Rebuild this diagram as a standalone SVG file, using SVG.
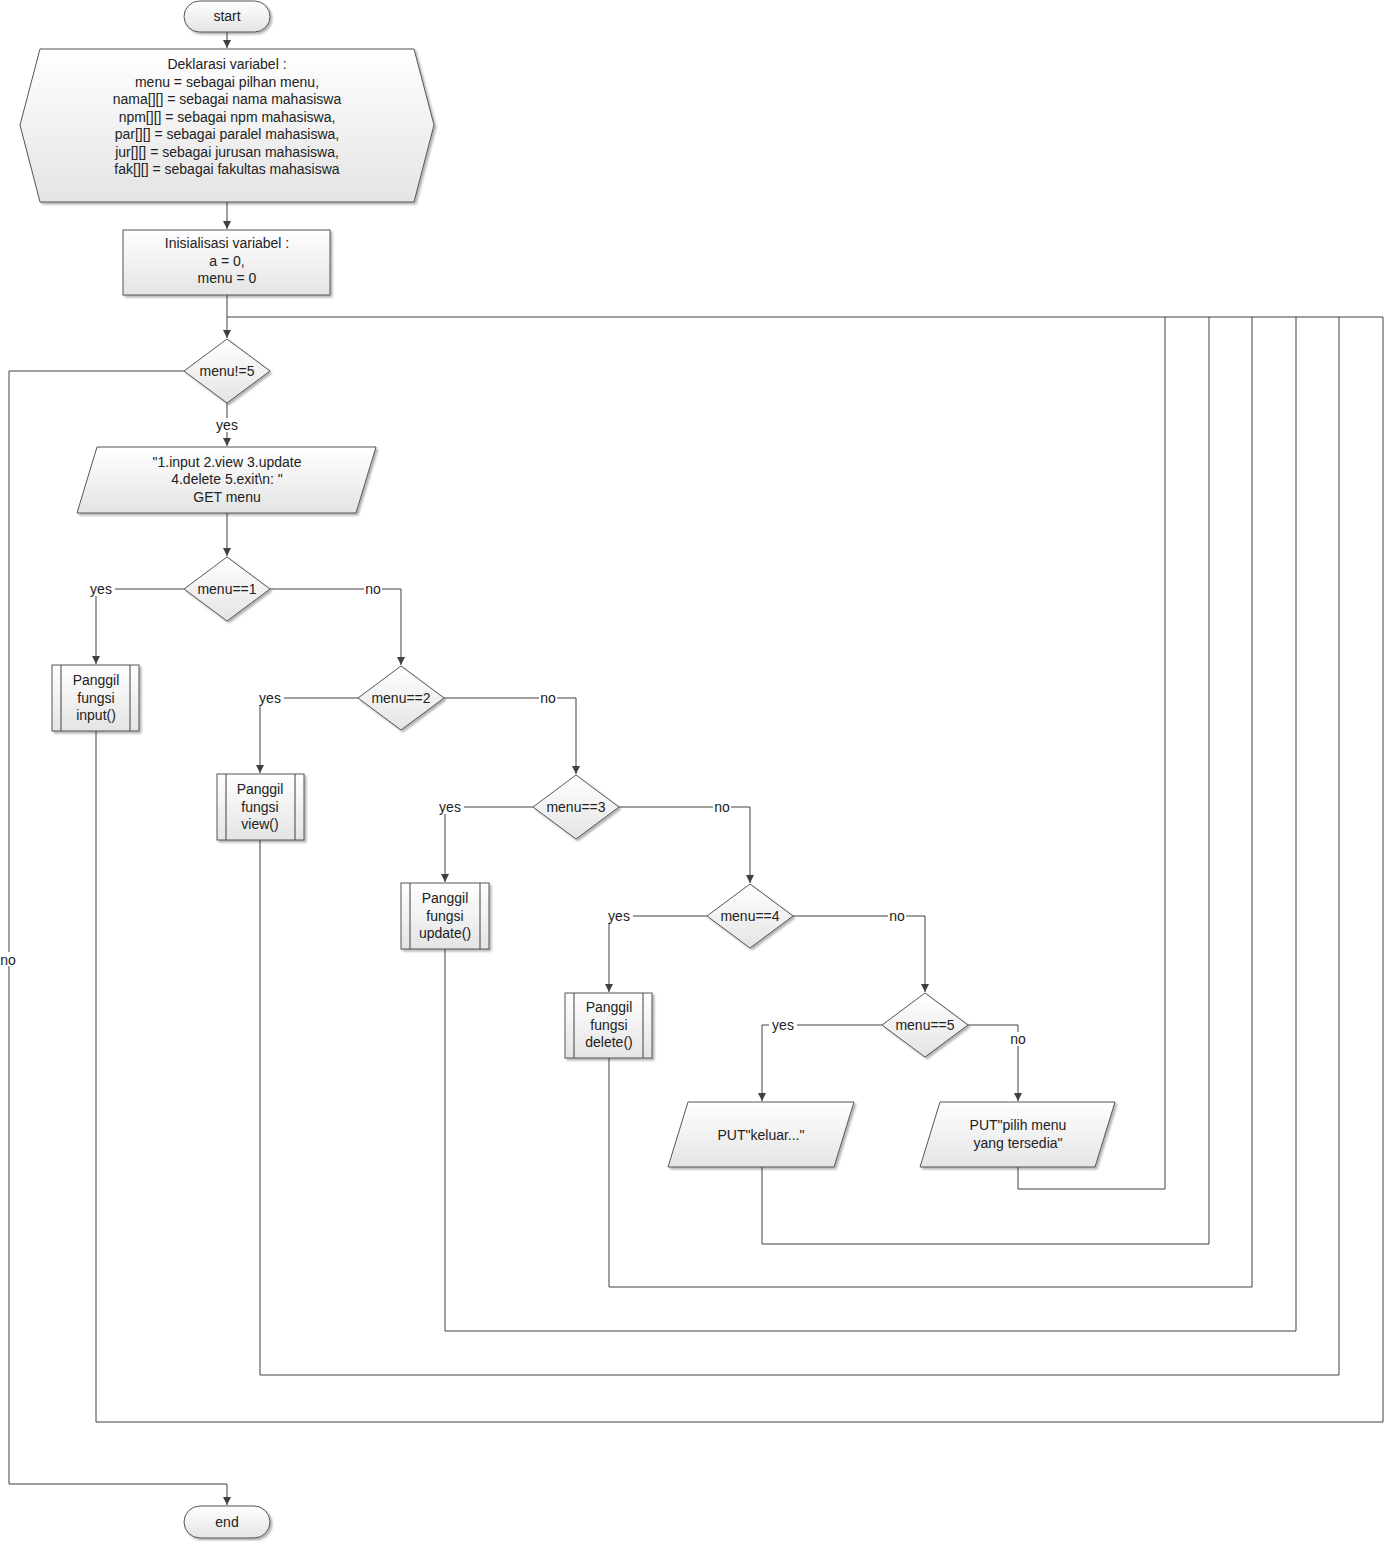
<svg xmlns="http://www.w3.org/2000/svg" width="1385" height="1541" viewBox="0 0 1385 1541">
<defs>
<linearGradient id="g" x1="0" y1="0" x2="0" y2="1"><stop offset="0" stop-color="#ffffff"/><stop offset="1" stop-color="#e4e4e4"/></linearGradient>
<filter id="sh" x="-5%" y="-5%" width="115%" height="120%"><feDropShadow dx="2" dy="2" stdDeviation="1.2" flood-color="#000" flood-opacity="0.3"/></filter>
<marker id="a" markerWidth="10" markerHeight="10" refX="9" refY="5" orient="auto" markerUnits="userSpaceOnUse"><path d="M1,1 L9,5 L1,9 z" fill="#404040"/></marker>
</defs>
<style>
.s{fill:url(#g);stroke:#555;stroke-width:1;filter:url(#sh)}
.l{fill:none;stroke:#404040;stroke-width:1}
.la{fill:none;stroke:#404040;stroke-width:1;marker-end:url(#a)}
text{font-family:"Liberation Sans",Arial,sans-serif;font-size:14px;fill:#222;text-anchor:middle}
.lb{fill:#fff}
</style>
<rect width="1385" height="1541" fill="#fff"/>
<g id="connectors">
<path class="la" d="M227,32 V48"/>
<path class="la" d="M227,202 V229"/>
<path class="la" d="M227,295 V338"/>
<path class="l" d="M227,317 H1383"/>
<path class="la" d="M227,403 V446"/>
<path class="la" d="M227,513 V556"/>
<path class="l" d="M184,371 H9 V1484 H227"/>
<path class="la" d="M227,1484 V1505"/>
<path class="la" d="M184,589 H96 V664"/>
<path class="la" d="M270,589 H401 V665"/>
<path class="la" d="M358,698 H260 V773"/>
<path class="la" d="M444,698 H576 V774"/>
<path class="la" d="M533,807 H445 V882"/>
<path class="la" d="M619,807 H750 V883"/>
<path class="la" d="M707,916 H609 V992"/>
<path class="la" d="M793,916 H925 V992"/>
<path class="la" d="M882,1025 H762 V1101"/>
<path class="la" d="M968,1025 H1018 V1101"/>
<path class="l" d="M1018,1167 V1189 H1165 V317"/>
<path class="l" d="M762,1167 V1244 H1209 V317"/>
<path class="l" d="M609,1058 V1287 H1252 V317"/>
<path class="l" d="M445,949 V1331 H1296 V317"/>
<path class="l" d="M260,840 V1375 H1339 V317"/>
<path class="l" d="M96,731 V1422 H1383 V317"/>
<rect class="lb" x="212" y="418" width="30" height="14"/><text x="227" y="430">yes</text>
<rect class="lb" x="0" y="952" width="18" height="14"/><text x="8" y="965">no</text>
<rect class="lb" x="87" y="582" width="28" height="14"/><text x="101" y="594">yes</text>
<rect class="lb" x="364" y="582" width="18" height="14"/><text x="373" y="594">no</text>
<rect class="lb" x="256" y="691" width="28" height="14"/><text x="270" y="703">yes</text>
<rect class="lb" x="539" y="691" width="18" height="14"/><text x="548" y="703">no</text>
<rect class="lb" x="436" y="800" width="28" height="14"/><text x="450" y="812">yes</text>
<rect class="lb" x="713" y="800" width="18" height="14"/><text x="722" y="812">no</text>
<rect class="lb" x="605" y="909" width="28" height="14"/><text x="619" y="921">yes</text>
<rect class="lb" x="888" y="909" width="18" height="14"/><text x="897" y="921">no</text>
<rect class="lb" x="769" y="1018" width="28" height="14"/><text x="783" y="1030">yes</text>
<rect class="lb" x="1009" y="1032" width="18" height="14"/><text x="1018" y="1044">no</text>
</g>
<g id="start"><rect class="s" x="184" y="1" width="86" height="31" rx="15.5"/><text x="227" y="21">start</text></g>
<g id="deklarasi"><polygon class="s" points="40,49 414,49 434,125 414,202 40,202 20,125"/>
<text x="227" y="69">Deklarasi variabel :</text><text x="227" y="87">menu = sebagai pilhan menu,</text><text x="227" y="104">nama[][] = sebagai nama mahasiswa</text><text x="227" y="122">npm[][] = sebagai npm mahasiswa,</text><text x="227" y="139">par[][] = sebagai paralel mahasiswa,</text><text x="227" y="157">jur[][] = sebagai jurusan mahasiswa,</text><text x="227" y="174">fak[][] = sebagai fakultas mahasiswa</text></g>
<g id="init"><rect class="s" x="123" y="230" width="207" height="65"/><text x="227" y="248">Inisialisasi variabel :</text><text x="227" y="266">a = 0,</text><text x="227" y="283">menu = 0</text></g>
<g id="d0"><polygon class="s" points="227,339 270,371 227,403 184,371"/><text x="227" y="376">menu!=5</text></g>
<g id="io1"><polygon class="s" points="97,447 376,447 356,513 77,513"/><text x="227" y="467">"1.input 2.view 3.update</text><text x="227" y="484">4.delete 5.exit\n: "</text><text x="227" y="502">GET menu</text></g>
<g id="d1"><polygon class="s" points="227,557 270,589 227,621 184,589"/><text x="227" y="594">menu==1</text></g>
<g id="p1"><rect class="s" x="52" y="665" width="87" height="66"/><path class="l" d="M61,665 V731 M130,665 V731"/><text x="96" y="685">Panggil</text><text x="96" y="703">fungsi</text><text x="96" y="720">input()</text></g>
<g id="d2"><polygon class="s" points="401,666 444,698 401,730 358,698"/><text x="401" y="703">menu==2</text></g>
<g id="p2"><rect class="s" x="217" y="774" width="87" height="66"/><path class="l" d="M226,774 V840 M295,774 V840"/><text x="260" y="794">Panggil</text><text x="260" y="812">fungsi</text><text x="260" y="829">view()</text></g>
<g id="d3"><polygon class="s" points="576,775 619,807 576,839 533,807"/><text x="576" y="812">menu==3</text></g>
<g id="p3"><rect class="s" x="401" y="883" width="88" height="66"/><path class="l" d="M410,883 V949 M480,883 V949"/><text x="445" y="903">Panggil</text><text x="445" y="921">fungsi</text><text x="445" y="938">update()</text></g>
<g id="d4"><polygon class="s" points="750,884 793,916 750,948 707,916"/><text x="750" y="921">menu==4</text></g>
<g id="p4"><rect class="s" x="565" y="993" width="87" height="65"/><path class="l" d="M574,993 V1058 M643,993 V1058"/><text x="609" y="1012">Panggil</text><text x="609" y="1030">fungsi</text><text x="609" y="1047">delete()</text></g>
<g id="d5"><polygon class="s" points="925,993 968,1025 925,1057 882,1025"/><text x="925" y="1030">menu==5</text></g>
<g id="out1"><polygon class="s" points="688,1102 854,1102 834,1167 668,1167"/><text x="761" y="1140">PUT"keluar..."</text></g>
<g id="out2"><polygon class="s" points="940,1102 1115,1102 1095,1167 920,1167"/><text x="1018" y="1130">PUT"pilih menu</text><text x="1018" y="1148">yang tersedia"</text></g>
<g id="end"><rect class="s" x="184" y="1506" width="86" height="32" rx="16"/><text x="227" y="1527">end</text></g>
</svg>
